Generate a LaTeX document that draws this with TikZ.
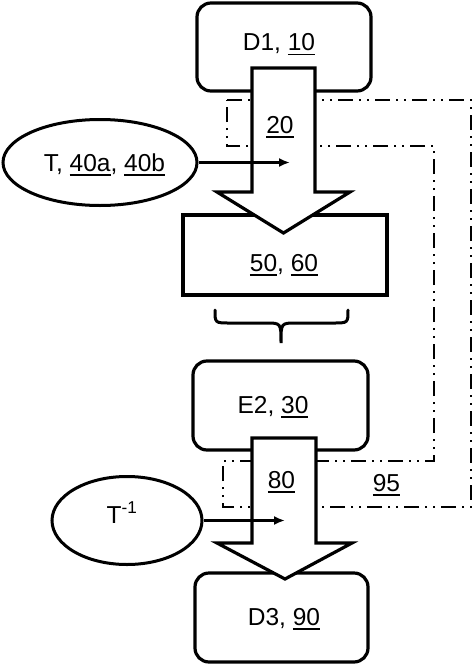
\documentclass[tikz,border=0pt]{standalone}
\usepackage{fontspec}
\setmainfont{Liberation Sans}
\usetikzlibrary{shapes.geometric,arrows.meta}
\newcommand{\uln}[1]{\setbox0\hbox{#1}\rlap{\rule[-4.6pt]{\wd0}{1.8pt}}\box0}
\begin{document}
\begin{tikzpicture}[x=1pt,y=-1pt,
  rbox/.style={draw, line width=3.2pt, rounded corners=14pt, inner sep=0pt},
  sbox/.style={draw, line width=3.2pt, inner sep=0pt},
  oval/.style={draw, ellipse, line width=3pt, inner sep=0pt},
  txt/.style={font=\fontsize{24.5}{29}\selectfont, inner sep=0pt, anchor=base},
  blockarrow/.style={draw, fill=white, line width=3.2pt, line join=miter},
  feed/.style={line width=2.5pt, -{Latex[length=11pt,width=9pt]}},
  loopline/.style={line width=2pt, dash pattern=on 15pt off 6pt on 2pt off 6pt on 2pt off 6pt},
  bracestyle/.style={line width=3pt, line cap=round},
]
\useasboundingbox (0,0) rectangle (474,665);

% boxes and ellipses
\node[rbox, minimum width=174pt, minimum height=88pt] (d1) at (284,47) {};
\node[sbox, minimum width=204pt, minimum height=80pt] (proc) at (285,255) {};
\node[rbox, minimum width=175pt, minimum height=89pt] (e2) at (280.5,405.5) {};
\node[rbox, minimum width=173pt, minimum height=89pt] (d3) at (281.5,617.5) {};
\node[oval, minimum width=194pt, minimum height=86pt] (t) at (100,162.5) {};
\node[oval, minimum width=150pt, minimum height=88pt] (tinv) at (127,520.5) {};

% dash-dot-dot loop
\draw[loopline] (227,100) -- (471,100) -- (471,507) -- (223,507) -- (223,461)
  -- (434,461) -- (434,146) -- (227,146) -- cycle;

% brace
\draw[bracestyle] (215,310) .. controls (215,323) .. (230,323) -- (266,323)
  .. controls (281,323) .. (281,343) .. controls (281,323) .. (296,323)
  -- (333,323) .. controls (348,323) .. (348,310);

% block arrows
\draw[blockarrow] (252,68) -- (315,68) -- (315,192) -- (350,192) -- (283.5,233)
  -- (217,192) -- (252,192) -- cycle;
\draw[blockarrow] (252,438) -- (316,438) -- (316,543) -- (352,543) -- (285,579)
  -- (217,543) -- (252,543) -- cycle;

% feed arrows
\coordinate (tin) at (290,162.5);
\coordinate (tinvin) at (285,520.5);
\draw[feed] (t.east) -- (tin);
\draw[feed] (tinv.east) -- (tinvin);

% texts
\node[txt] (d1t) at (279,50.7) {D1, \uln{10}};
\node[txt] (l20) at (280,133) {\uln{20}};
\node[txt] (tt) at (104.5,171.5) {T, \uln{40a}, \uln{40b}};
\node[txt] (proct) at (284,271.5) {\uln{50}, \uln{60}};
\node[txt] (e2t) at (273,413) {E2, \uln{30}};
\node[txt] (l80) at (281.5,488) {\uln{80}};
\node[txt] (l95) at (386.5,491) {\uln{95}};
\node[txt] (tinvt) at (122,523) {T\textsuperscript{-1}};
\node[txt] (d3t) at (284,625) {D3, \uln{90}};
\end{tikzpicture}
\end{document}
